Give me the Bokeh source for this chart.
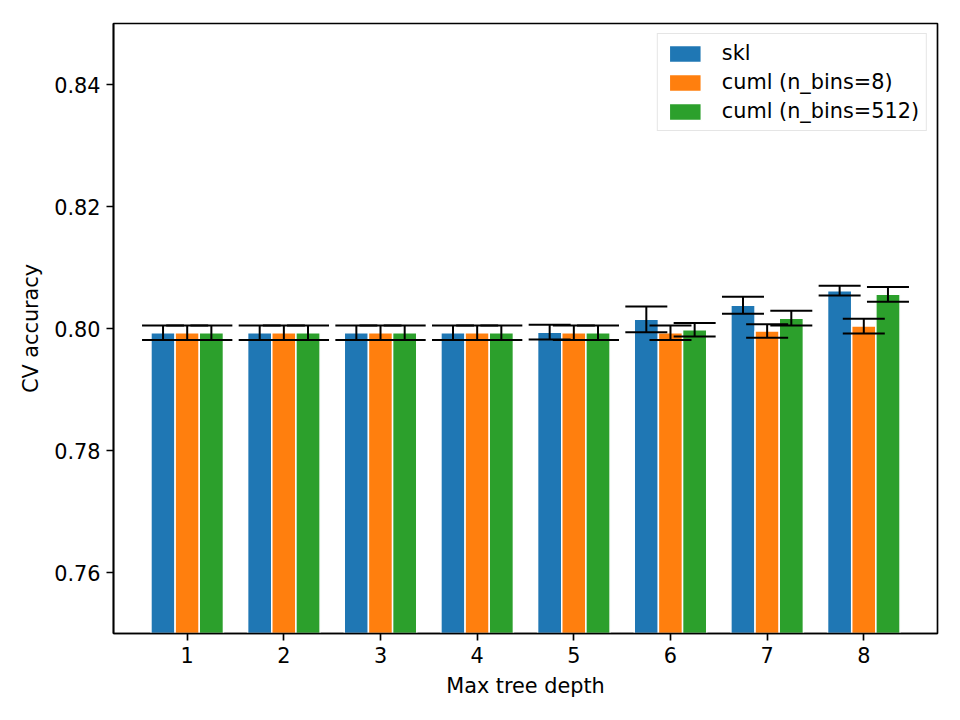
import numpy as np
from bokeh.plotting import figure
from bokeh.models import (ColumnDataSource, Range1d, FixedTicker, Whisker, TeeHead,
                          NumeralTickFormatter)
from bokeh.embed import file_html
from bokeh.resources import INLINE

depths = [1, 2, 3, 4, 5, 6, 7, 8]
series_names = ["skl", "cuml (n_bins=8)", "cuml (n_bins=512)"]
skl = [0.7993, 0.7993, 0.7993, 0.7993, 0.7994, 0.8015, 0.8038, 0.8062]
skl_err = [0.0012, 0.0012, 0.0012, 0.0012, 0.0012, 0.0021, 0.0014, 0.0008]
cuml8 = [0.7993, 0.7993, 0.7993, 0.7993, 0.7993, 0.7993, 0.7996, 0.8004]
cuml8_err = [0.0012, 0.0012, 0.0012, 0.0012, 0.0012, 0.0012, 0.0011, 0.0012]
cuml512 = [0.7993, 0.7993, 0.7993, 0.7993, 0.7993, 0.7998, 0.8017, 0.8056]
cuml512_err = [0.0012, 0.0012, 0.0012, 0.0012, 0.0012, 0.0011, 0.0012, 0.0012]
y_ticks = [0.76, 0.78, 0.80, 0.82, 0.84]

colors = ["#1f77b4", "#ff7f0e", "#2ca02c"]
offsets = [-0.25, 0.0, 0.25]
bar_w = 0.25
FONT = "DejaVu Sans"
FS = "20.8px"

p = figure(output_backend="svg", toolbar_location=None,
           width=952, height=712, frame_width=824, frame_height=610,
           min_border_left=113, min_border_top=23, min_border_right=15,
           min_border_bottom=79,
           x_range=Range1d(0.2375, 8.7625), y_range=Range1d(0.75, 0.85))
p.background_fill_color = "white"
p.border_fill_color = "white"
p.outline_line_color = "black"
p.outline_line_width = 1.67
p.grid.visible = False

for name, vals, errs, col, off in zip(series_names, [skl, cuml8, cuml512],
                                      [skl_err, cuml8_err, cuml512_err], colors, offsets):
    x = np.array(depths, dtype=float) + off
    v = np.array(vals)
    e = np.array(errs)
    src = ColumnDataSource(dict(x=x, top=v, upper=v + e, lower=v - e))
    p.vbar(x="x", top="top", bottom=0.0, width=bar_w, source=src,
           fill_color=col, line_color="white", line_width=1.5, legend_label=name)
    w = Whisker(source=src, base="x", upper="upper", lower="lower", dimension="height",
                line_color="black", line_width=2, level="overlay",
                upper_head=TeeHead(size=42, line_color="black", line_width=2),
                lower_head=TeeHead(size=42, line_color="black", line_width=2))
    p.add_layout(w)

for ax in [p.xaxis[0], p.yaxis[0]]:
    ax.axis_line_color = "black"
    ax.axis_line_width = 1.67
    ax.major_tick_line_color = "black"
    ax.major_tick_line_width = 1.67
    ax.major_tick_out = 7
    ax.major_tick_in = 0
    ax.minor_tick_line_color = None
    ax.major_label_text_font = FONT
    ax.major_label_text_font_size = FS
    ax.major_label_text_color = "black"
    ax.axis_label_text_font = FONT
    ax.axis_label_text_font_size = FS
    ax.axis_label_text_font_style = "normal"
    ax.axis_label_text_color = "black"
    ax.major_label_standoff = 6

p.xaxis.ticker = FixedTicker(ticks=depths)
p.yaxis.ticker = FixedTicker(ticks=y_ticks)
p.yaxis.formatter = NumeralTickFormatter(format="0.00")
p.xaxis.axis_label = "Max tree depth"
p.yaxis.axis_label = "CV accuracy"
p.xaxis.axis_label_standoff = 8
p.yaxis.axis_label_standoff = 8

lg = p.legend[0]
lg.location = "top_right"
lg.margin = 10
lg.padding = 7
lg.spacing = 5
lg.glyph_width = 40
lg.glyph_height = 21
lg.label_standoff = 17
lg.label_text_font = FONT
lg.label_text_font_size = FS
lg.label_text_color = "black"
lg.border_line_color = "#cccccc"
lg.border_line_width = 1.5
lg.background_fill_alpha = 0.8
lg.level = "overlay"

open("out.html", "w").write(file_html(p, INLINE))
